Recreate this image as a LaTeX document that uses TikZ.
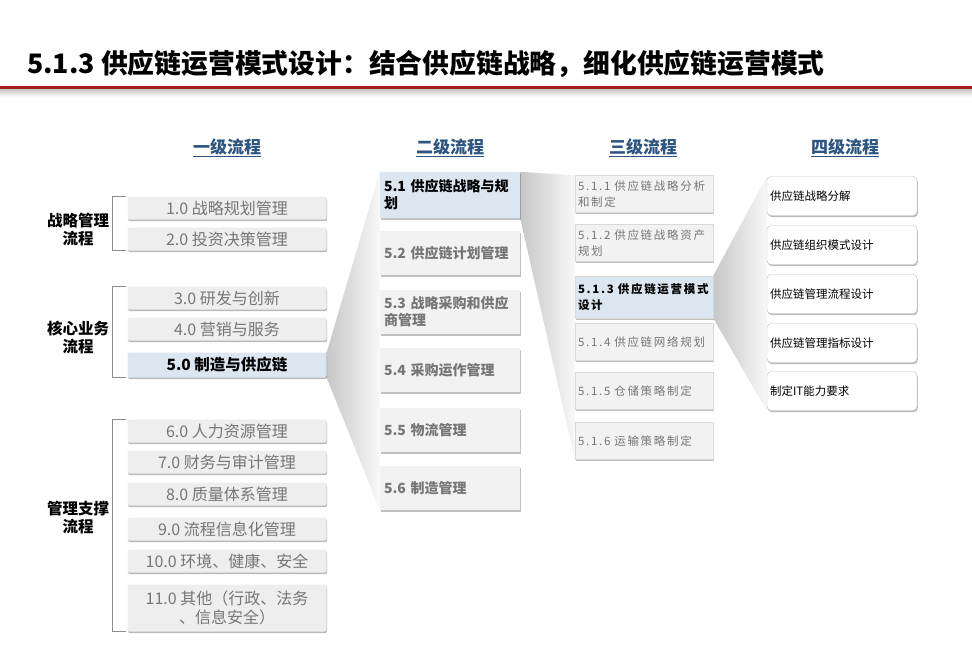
\documentclass[tikz,border=0pt]{standalone}
\usepackage{fontspec}
\setmainfont{Noto Sans CJK SC}
\newfontfamily\spacedfont{Noto Sans CJK SC}[LetterSpace=15]
\usepackage{tikz}
\usetikzlibrary{positioning,shadows}
\usepackage{xcolor}
\definecolor{titlered}{RGB}{168,32,30}
\definecolor{hdblue}{RGB}{46,84,130}
\definecolor{boxgray}{RGB}{238,238,238}
\definecolor{txtgray}{RGB}{118,118,118}
\definecolor{hlblue}{RGB}{220,230,241}
\pgfdeclarelayer{back}
\pgfdeclarelayer{mid}
\pgfsetlayers{back,mid,main}
\tikzstyle{header} = [font=\bfseries\fontsize{17}{20}\selectfont, text=hdblue]
\tikzstyle{grouplabel} = [font=\bfseries\fontsize{15.5}{18}\selectfont, align=center, inner sep=0]
\tikzstyle{bracket} = [draw=black!45, thick]
\tikzstyle{lvonebox} = [rectangle, rounded corners=2pt, minimum width=199pt, minimum height=23pt, inner sep=2pt, fill=boxgray, text=txtgray, align=center, font=\fontsize{16}{18.5}\selectfont, drop shadow={shadow xshift=0.6pt, shadow yshift=-1.6pt, fill=black!60, opacity=0.45}]
\tikzstyle{lvtwobox} = [rectangle, minimum width=140pt, minimum height=44pt, text width=132pt, inner sep=4pt, fill=black!5, text=txtgray, align=left, font=\bfseries\fontsize{14}{17}\selectfont, drop shadow={shadow xshift=1pt, shadow yshift=-1.6pt, fill=black!60, opacity=0.4}]
\tikzstyle{lvthreebox} = [rectangle, minimum width=138pt, minimum height=37pt, text width=132pt, inner sep=3pt, fill=black!5, draw=black!15, text=txtgray, align=left, font=\spacedfont\fontsize{11.5}{16}\selectfont, drop shadow={shadow xshift=0.8pt, shadow yshift=-1.6pt, fill=black!60, opacity=0.4}]
\tikzstyle{lvfourbox} = [rectangle, rounded corners=4pt, minimum width=150pt, minimum height=39pt, text width=144pt, inner sep=3pt, fill=white, draw=black!25, align=left, font=\fontsize{11.5}{14}\selectfont, drop shadow={shadow xshift=0.8pt, shadow yshift=-1.6pt, fill=black!60, opacity=0.45}]
\tikzstyle{funnel} = [left color=black!22, right color=black!3]

\begin{document}
\begin{tikzpicture}[x=1pt,y=-1pt]
\useasboundingbox (0,0) rectangle (972,666);
\begin{pgfonlayer}{back}
\fill[white] (0,0) rectangle (972,666);
\end{pgfonlayer}

% title and rule
\node[anchor=west, inner sep=0, font=\bfseries\fontsize{26.8}{30}\selectfont] (title) at (27,64) {5.1.3 供应链运营模式设计：结合供应链战略，细化供应链运营模式};
\shade[top color=black!22, bottom color=white] (0,89) rectangle (972,97);
\fill[titlered] (0,86) rectangle (972,89);

% column heads
\node[header] (h1) at (227,148) {\underline{一级流程}};
\node[header] (h2) at (450,148) {\underline{二级流程}};
\node[header] (h3) at (643,148) {\underline{三级流程}};
\node[header] (h4) at (845,148) {\underline{四级流程}};

% level 1
\node[lvonebox] (c1) at (227,208) {1.0 战略规划管理};
\node[lvonebox] (c2) at (227,239) {2.0 投资决策管理};
\node[lvonebox] (c3) at (227,298) {3.0 研发与创新};
\node[lvonebox] (c4) at (227,329) {4.0 营销与服务};
\node[lvonebox, minimum height=25pt, fill=hlblue, text=black, font=\bfseries\fontsize{15.5}{18}\selectfont] (c5) at (227,365) {5.0 制造与供应链};
\node[lvonebox] (c6) at (227,431) {6.0 人力资源管理};
\node[lvonebox] (c7) at (227,462) {7.0 财务与审计管理};
\node[lvonebox] (c8) at (227,494) {8.0 质量体系管理};
\node[lvonebox] (c9) at (227,529) {9.0 流程信息化管理};
\node[lvonebox] (c10) at (227,561) {10.0 环境、健康、安全};
\node[lvonebox, minimum height=47pt] (c11) at (227,608) {11.0 其他（行政、法务\\、信息安全）};

\node[grouplabel] (g1) at (78,230) {战略管理\\流程};
\node[grouplabel] (g2) at (78,338) {核心业务\\流程};
\node[grouplabel] (g3) at (78,518) {管理支撑\\流程};

\draw[bracket] ([xshift=-1pt]c1.north west) -- ++(-14,0) |- ([xshift=-1pt]c2.south west);
\draw[bracket] ([xshift=-1pt]c3.north west) -- ++(-14,0) |- ([xshift=-1pt]c5.south west);
\draw[bracket] ([xshift=-1pt]c6.north west) -- ++(-14,0) |- ([xshift=-1pt]c11.south west);

% level 2
\node[lvtwobox, minimum height=46pt, fill=hlblue, text=black] (s1) at (450,195) {5.1 供应链战略与规\\划};
\node[lvtwobox] (s2) at (450,253) {5.2 供应链计划管理};
\node[lvtwobox] (s3) at (450,312) {5.3 战略采购和供应\\商管理};
\node[lvtwobox] (s4) at (450,370) {5.4 采购运作管理};
\node[lvtwobox] (s5) at (450,430) {5.5 物流管理};
\node[lvtwobox] (s6) at (450,488) {5.6 制造管理};

% level 3
\node[lvthreebox] (t1) at (644,194) {5.1.1 供应链战略分析\\和制定};
\node[lvthreebox] (t2) at (644,243) {5.1.2 供应链战略资产\\规划};
\node[lvthreebox, minimum height=42pt, fill=hlblue, text=black, font=\spacedfont\bfseries\fontsize{11.5}{16}\selectfont] (t3) at (644,297) {5.1.3 供应链运营模式\\设计};
\node[lvthreebox] (t4) at (644,342) {5.1.4 供应链网络规划};
\node[lvthreebox] (t5) at (644,391) {5.1.5 仓储策略制定};
\node[lvthreebox] (t6) at (644,441) {5.1.6 运输策略制定};

% level 4
\node[lvfourbox] (f1) at (842,196) {供应链战略分解};
\node[lvfourbox] (f2) at (842,245) {供应链组织模式设计};
\node[lvfourbox] (f3) at (842,294) {供应链管理流程设计};
\node[lvfourbox] (f4) at (842,343) {供应链管理指标设计};
\node[lvfourbox] (f5) at (842,391) {制定IT能力要求};

% funnels
\begin{pgfonlayer}{mid}
\shade[funnel] (c5.north east) -- (s1.north west) -- (s6.south west) -- (c5.south east) -- cycle;
\shade[funnel] (s1.north east) -- (t1.north west) -- (t6.south west) -- (s1.south east) -- cycle;
\shade[funnel] (t3.north east) -- (f1.north west) -- (f5.south west) -- (t3.south east) -- cycle;
\end{pgfonlayer}
\end{tikzpicture}
\end{document}
